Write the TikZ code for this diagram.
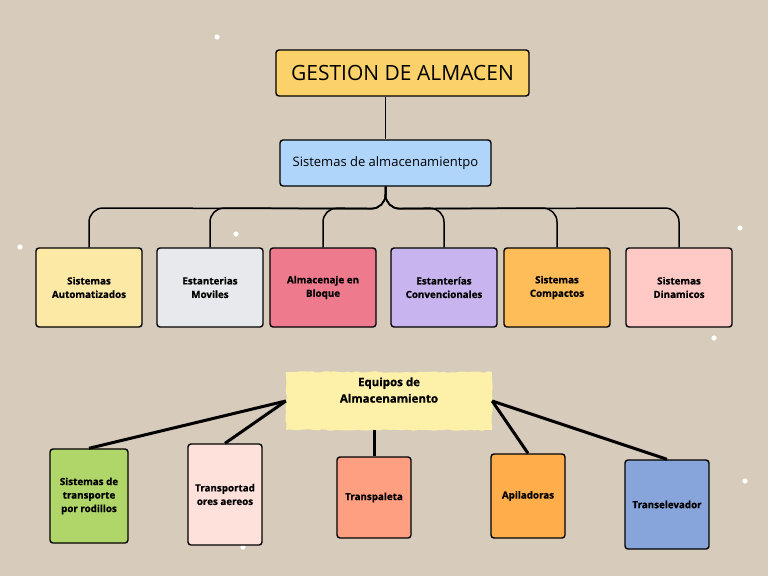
\documentclass[tikz,border=0pt]{standalone}
\usepackage{fontspec}
\setmainfont{Open Sans}[BoldFeatures={FakeBold=0.8}]
\usetikzlibrary{positioning, calc, decorations.pathmorphing}
\definecolor{GAPaper}{RGB}{215,203,188}
\definecolor{GAGold}{RGB}{251,210,106}
\definecolor{GASky}{RGB}{176,213,251}
\definecolor{GACream}{RGB}{253,233,166}
\definecolor{GAMist}{RGB}{232,233,236}
\definecolor{GARose}{RGB}{238,122,142}
\definecolor{GALilac}{RGB}{200,180,238}
\definecolor{GAOrange}{RGB}{255,189,90}
\definecolor{GABlush}{RGB}{255,202,198}
\definecolor{GANote}{RGB}{253,240,168}
\definecolor{GALime}{RGB}{176,214,106}
\definecolor{GAPeach}{RGB}{255,225,220}
\definecolor{GASalmon}{RGB}{253,159,128}
\definecolor{GAAmber}{RGB}{255,174,75}
\definecolor{GASteel}{RGB}{135,165,219}

\begin{document}
\begin{tikzpicture}[x=1pt, y=-1pt,
    box/.style={draw=black, line width=1.4pt, rounded corners=3pt, align=center,
                inner sep=2pt, font=\fontsize{9.8}{13.5}\selectfont\bfseries},
    rowbox/.style={box, minimum width=106, minimum height=79},
    link/.style={black, line width=1.5pt, rounded corners=14pt},
    leg/.style={black, line width=3pt}]
        % Paper background
        \useasboundingbox (0,0) rectangle (768,576);
        \fill[GAPaper] (0,0) rectangle (768,576);
        \foreach \sx/\sy in {217/37, 20/247, 236/234, 740/228, 714/338, 745/481, 243/547} {
          \fill[white] (\sx,\sy) circle (2.6);
        }

        % Header
        \node[box, fill=GAGold, minimum width=253, minimum height=46,
              font=\fontsize{21}{23}\selectfont] (title) at (402.5,73) {GESTION DE ALMACEN};
        \node[box, fill=GASky, minimum width=211, minimum height=46,
              font=\fontsize{13}{16}\selectfont] (sistemas) at (385.5,163) {Sistemas de almacenamientpo};
        \draw[link] (title.south -| sistemas.north) -- (sistemas.north);

        % Storage systems row
        \node[rowbox, fill=GACream] (auto) at (89,287.5) {Sistemas\\Automatizados};
        \node[rowbox, fill=GAMist] (movil) at (210,287.5) {Estanterias\\Moviles};
        \node[rowbox, fill=GARose] (bloque) at (323,287.5) {Almacenaje en\\Bloque};
        \node[rowbox, fill=GALilac] (conv) at (444,287.5) {Estanterías\\Convencionales};
        \node[rowbox, fill=GAOrange] (compacto) at (557,287.5) {Sistemas\\Compactos};
        \node[rowbox, fill=GABlush] (dinamico) at (679,287.5) {Sistemas\\Dinamicos};
        \foreach \nm/\cx in {auto/89, movil/210, bloque/323, conv/444, compacto/557, dinamico/679} {
          \draw[link] (sistemas.south) -- ++(0,22) -- (\cx,208) -- (\nm.north);
        }

        % Equipment
        \node[fill=GANote, minimum width=206, minimum height=58, align=center, text depth=22pt,
              decorate, decoration={random steps, segment length=4pt, amplitude=0.8pt},
              font=\fontsize{11.5}{16.5}\selectfont\bfseries] (equipos) at (389,401) {Equipos de\\Almacenamiento};
        \node[box, fill=GALime, minimum width=78, minimum height=94] (rodillo) at (89,496) {Sistemas de\\transporte\\por rodillos};
        \node[box, fill=GAPeach, minimum width=74, minimum height=101] (aereo) at (225,494.5) {Transportad\\ores aereos};
        \node[box, fill=GASalmon, minimum width=74, minimum height=81] (paleta) at (374,497.5) {Transpaleta};
        \node[box, fill=GAAmber, minimum width=74, minimum height=84] (apilador) at (528,496) {Apiladoras};
        \node[box, fill=GASteel, minimum width=84, minimum height=89] (elevador) at (667,504.5) {Transelevador};
        \draw[leg] (equipos.west) -- (rodillo.north);
        \draw[leg] (equipos.west) -- (aereo.north);
        \draw[leg] (equipos.south -| paleta.north) -- (paleta.north);
        \draw[leg] (equipos.east) -- (apilador.north);
        \draw[leg] (equipos.east) -- (elevador.north);
      \end{tikzpicture}
\end{document}
